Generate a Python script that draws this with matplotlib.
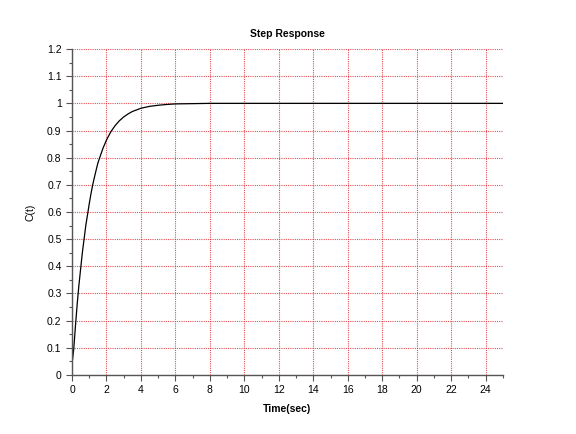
import matplotlib
matplotlib.use("Agg")
import matplotlib.pyplot as plt
from matplotlib.ticker import MultipleLocator

plt.rcParams['font.family'] = ['Liberation Sans', 'DejaVu Sans']

# step response
t = [0, 0.1, 0.2, 0.3, 0.4, 0.5, 0.6, 0.7, 0.8, 0.9, 1.0, 1.1, 1.2, 1.35,
     1.5, 1.65, 1.8, 2.0, 2.25, 2.5, 2.75, 3.0, 3.25, 3.5, 3.75, 4.0, 4.5,
     5.0, 5.5, 6.0, 7.0, 8.0, 25.0]
c = [0.04, 0.095, 0.18, 0.26, 0.33, 0.39, 0.45, 0.50, 0.55, 0.59, 0.63,
     0.667, 0.70, 0.741, 0.78, 0.808, 0.835, 0.865, 0.895, 0.918, 0.936,
     0.95, 0.961, 0.97, 0.976, 0.982, 0.989, 0.993, 0.996, 0.998, 0.999,
     1.0, 1.0]

fig = plt.figure(figsize=(5.76, 4.34), dpi=100)
ax = fig.add_axes([0.125, 0.136, 0.748, 0.751])

ax.plot(t, c, color='black', linewidth=0.9)

ax.set_xlim(0, 25)
ax.set_ylim(0, 1.2)
ax.xaxis.set_major_locator(MultipleLocator(2))
ax.xaxis.set_minor_locator(MultipleLocator(1))
ax.yaxis.set_minor_locator(MultipleLocator(0.05))
ax.set_yticks([i / 10 for i in range(13)])
ax.set_yticklabels(['0', '0.1', '0.2', '0.3', '0.4', '0.5', '0.6', '0.7',
                    '0.8', '0.9', '1', '1.1', '1.2'])

ax.grid(which='major', color='#e0303a', linestyle=(0, (1, 1)),
        linewidth=0.8, alpha=0.85)

ax.spines['top'].set_color('none')
ax.spines['right'].set_color('none')
for s in ('left', 'bottom'):
    ax.spines[s].set_color('#555555')
    ax.spines[s].set_linewidth(1.0)

ax.tick_params(which='major', direction='out', length=4, width=0.8,
               colors='#555555', labelsize=7.5, labelcolor='black')
ax.tick_params(which='minor', direction='out', length=2, width=0.8, colors='#555555')

ax.set_title('Step Response', fontsize=7.5, fontweight='bold', pad=9)
ax.set_xlabel('Time(sec)', fontsize=7.5, fontweight='bold', labelpad=6)
ax.set_ylabel('C(t)', fontsize=7.5, labelpad=8)

fig.savefig('out.png', dpi=100)
